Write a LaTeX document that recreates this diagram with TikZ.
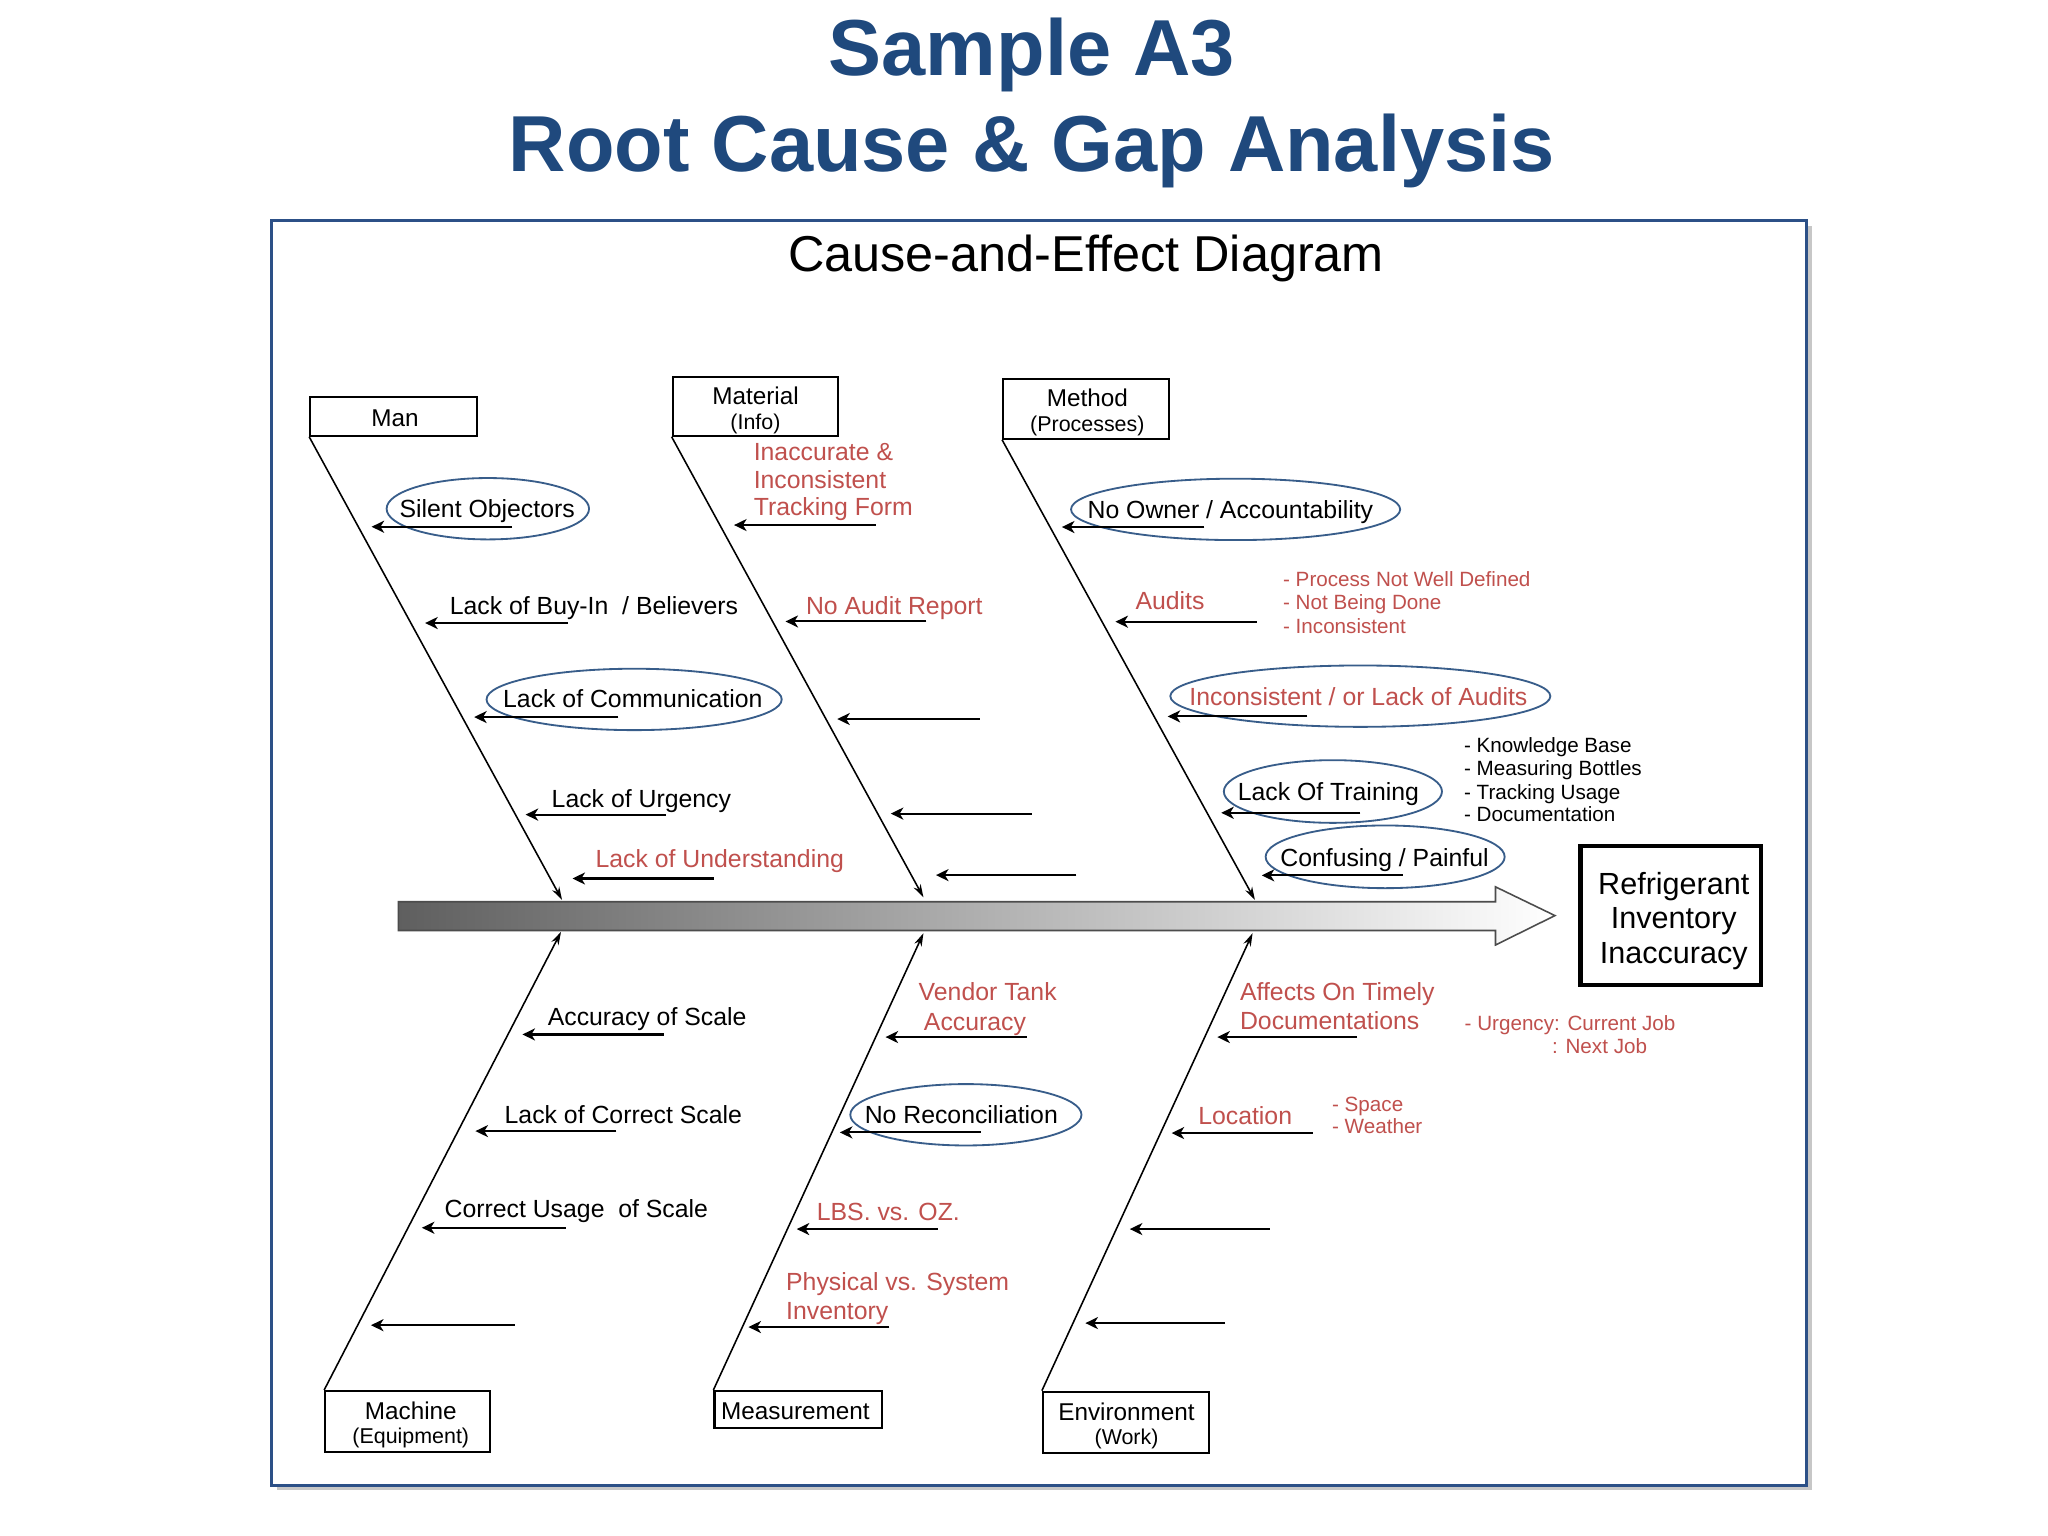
\documentclass[tikz,border=0pt]{standalone}
\usepackage{fontspec}
\setmainfont{Liberation Sans}
\usetikzlibrary{shapes.geometric,arrows.meta}
\definecolor{titleblue}{RGB}{31,73,125}
\definecolor{frameblue}{RGB}{44,80,135}
\definecolor{ellblue}{RGB}{56,93,138}
\definecolor{causered}{RGB}{192,80,77}
\definecolor{spinedark}{RGB}{95,95,95}
\newcommand\myfs[1]{\fontsize{#1}{#1}\selectfont}
\newcommand\subar[4]{\coordinate (#1s) at (#3,#4); \coordinate (#1t) at (#2,#4); \draw[subarr] (#1s) -- (#1t);}
\begin{document}
\begin{tikzpicture}[x=0.5pt,y=-0.5pt,
  lbl/.style={inner sep=0pt, anchor=west, text height=0.72em, text depth=0pt, font=\myfs{9.5}},
  ctxt/.style={inner sep=0pt, text height=0.72em, text depth=0pt, font=\myfs{9.5}},
  redtxt/.style={text=causered},
  smalltxt/.style={font=\myfs{7.9}},
  boxtop/.style={ctxt, font=\myfs{9.3}},
  boxsub/.style={ctxt, font=\myfs{8.2}},
  catbox/.style={draw, line width=0.8pt, inner sep=0pt},
  cause/.style={ellipse, draw=ellblue, line width=0.7pt, inner sep=0pt},
  bone/.style={line width=0.6pt, -{Stealth[length=5pt,width=3pt,open]}},
  subarr/.style={line width=0.8pt, -{Stealth[length=4.8pt,width=4.6pt,inset=1.4pt]}}
]
\useasboundingbox (0,0) rectangle (1568,1176);
% titles
\node[font=\bfseries\myfs{30.4}, text=titleblue, anchor=base, inner sep=0pt] (t1) at (790,58) {Sample A3};
\node[font=\bfseries\myfs{30.4}, text=titleblue, anchor=base, inner sep=0pt] (t2) at (790,131.4) {Root Cause \& Gap Analysis};
% frame
\fill[black!22] (212,173) rectangle (1387,1141);
\draw[frameblue, line width=1.2pt, fill=white] (208,169) rectangle (1383,1137);
\node[font=\myfs{19.3}, anchor=base, inner sep=0pt] (sub) at (831.5,208) {Cause-and-Effect Diagram};
% spine
\shadedraw[left color=spinedark, right color=white, draw=black!70, line width=0.6pt]
  (305,690.4) -- (1145,690.4) -- (1145,679) -- (1190.5,701) -- (1145,723.5) -- (1145,712.4) -- (305,712.4) -- cycle;
% category boxes
\node[catbox, minimum width=64pt, minimum height=14.9pt] (man) at (301.5,318.7) {};
\node[catbox, minimum width=63.3pt, minimum height=22.6pt] (material) at (578.3,311) {};
\node[catbox, minimum width=63.5pt, minimum height=22.9pt] (method) at (831.5,313) {};
\node[catbox, minimum width=63pt, minimum height=23.5pt] (machine) at (312,1088.5) {};
\node[catbox, minimum width=64pt, minimum height=14.2pt] (measurement) at (611,1079.2) {};
\node[catbox, minimum width=63.5pt, minimum height=23.5pt] (environment) at (862,1089) {};
\node[boxtop] (mant) at (302.5,319) {Man};
\node[boxtop] (materialt) at (578.4,302.4) {Material};
\node[boxsub] (materials) at (578.4,321.6) {(Info)};
\node[boxtop] (methodt) at (832.5,304.3) {Method};
\node[boxsub] (methods) at (832.5,323) {(Processes)};
\node[boxtop] (machinet) at (314.5,1079.5) {Machine};
\node[boxsub] (machines) at (314.5,1097.7) {(Equipment)};
\node[boxtop] (measurementt) at (609,1079.5) {Measurement};
\node[boxtop] (environmentt) at (862.5,1080.5) {Environment};
\node[boxsub] (environments) at (862.5,1098.6) {(Work)};
\node[draw, line width=1.6pt, minimum width=69pt, minimum height=53pt, inner sep=0pt] (effect) at (1279,701) {};
\node[align=center, inner sep=0pt, font=\fontsize{11.7}{13.25}\selectfont] (effectt) at (1281.5,705) {Refrigerant\\Inventory\\Inaccuracy};
% bones
\coordinate (manE) at (430.3,689);
\coordinate (materialE) at (707,687);
\coordinate (methodE) at (960.8,689);
\coordinate (machineE) at (429.5,713.5);
\coordinate (measurementE) at (707,714.5);
\coordinate (environmentE) at (959,714.5);
\draw[bone] (man.south west) -- (manE);
\draw[bone] (material.south west) -- (materialE);
\draw[bone] (method.south west) -- (methodE);
\draw[bone] (machine.north west) -- (machineE);
\draw[bone] (measurement.north west) -- (measurementE);
\draw[bone] (environment.north west) -- (environmentE);
% ellipses
\node[cause, minimum width=77.5pt, minimum height=23.5pt] (e1) at (373.5,389.5) {};
\node[cause, minimum width=113pt, minimum height=23.5pt] (e2) at (485.5,535.5) {};
\node[cause, minimum width=126pt, minimum height=23.5pt] (e3) at (946,390) {};
\node[cause, minimum width=145.5pt, minimum height=23.5pt] (e4) at (1041.5,533) {};
\node[cause, minimum width=83.5pt, minimum height=24pt] (e5) at (1020.5,606) {};
\node[cause, minimum width=91.5pt, minimum height=24pt] (e6) at (1060.5,656) {};
\node[cause, minimum width=88.5pt, minimum height=23.5pt] (e7) at (739.5,853.5) {};
\node[ctxt] (e1t) at (373,389) {Silent Objectors};
\node[ctxt] (e2t) at (484.5,534.5) {Lack of Communication};
\node[ctxt] (e3t) at (942,390) {No Owner / Accountability};
\node[ctxt, redtxt] (e4t) at (1040,533) {Inconsistent / or Lack of Audits};
\node[ctxt] (e5t) at (1017,606) {Lack Of Training};
\node[ctxt] (e6t) at (1060,656) {Confusing / Painful};
\node[ctxt] (e7t) at (736,853) {No Reconciliation};
% sub arrows: name, tip x, end x, y
\subar{a1}{284.5}{392}{403.3}
\subar{a2}{325.5}{435}{477}
\subar{a3}{363}{473.5}{549}
\subar{a4}{402.4}{510}{623.7}
\subar{a5}{438.3}{546.6}{672.6}
\subar{b1}{562}{670.6}{402}
\subar{b2}{601.4}{709.3}{475.8}
\subar{b3}{641}{750}{550.5}
\subar{b4}{682}{790}{622.9}
\subar{b5}{716.6}{824}{670}
\subar{c1}{813}{922}{403.5}
\subar{c2}{854}{962}{476}
\subar{c3}{894}{1001}{548.5}
\subar{c4}{935}{1041.6}{622.3}
\subar{c5}{966}{1074}{670.2}
\subar{d1}{400}{508}{792}
\subar{d2}{364}{472}{866}
\subar{d3}{323}{433}{940}
\subar{d4}{284}{394}{1014.6}
\subar{f1}{678}{786}{794}
\subar{f2}{643}{751}{867}
\subar{f3}{610}{718}{941}
\subar{f4}{573}{681}{1016}
\subar{g1}{932}{1039}{794}
\subar{g2}{897}{1005}{867.5}
\subar{g3}{865}{972}{941}
\subar{g4}{831}{938}{1013}
% labels: Man
\node[lbl] (l1) at (344,463) {Lack of Buy-In \ / Believers};
\node[lbl] (l2) at (422,611) {Lack of Urgency};
\node[lbl, redtxt] (l3) at (455.6,657) {Lack of Understanding};
% Material
\node[lbl, redtxt] (l4) at (576.7,345) {Inaccurate \&};
\node[lbl, redtxt] (l5) at (576.7,366.5) {Inconsistent};
\node[lbl, redtxt] (l6) at (576.7,387.6) {Tracking Form};
\node[lbl, redtxt] (l7) at (616.7,463) {No Audit Report};
% Method
\node[lbl, redtxt] (l8) at (869,459.5) {Audits};
\node[lbl, redtxt, smalltxt] (l9) at (982,442) {- Process Not Well Defined};
\node[lbl, redtxt, smalltxt] (l10) at (982,459.5) {- Not Being Done};
\node[lbl, redtxt, smalltxt] (l11) at (982,478) {- Inconsistent};
\node[lbl, smalltxt] (l12) at (1120.5,569) {- Knowledge Base};
\node[lbl, smalltxt] (l13) at (1120.5,586.5) {- Measuring Bottles};
\node[lbl, smalltxt] (l14) at (1120.5,605) {- Tracking Usage};
\node[lbl, smalltxt] (l15) at (1120.5,622) {- Documentation};
% Machine
\node[lbl] (l16) at (419,777.7) {Accuracy of Scale};
\node[lbl] (l17) at (386,853) {Lack of Correct Scale};
\node[lbl] (l18) at (340,925) {Correct Usage \ of Scale};
% Measurement
\node[lbl, redtxt] (l19) at (703,759) {Vendor Tank};
\node[lbl, redtxt] (l20) at (707,781.5) {Accuracy};
\node[lbl, redtxt] (l21) at (625,927.5) {LBS. vs. OZ.};
\node[lbl, redtxt] (l22) at (601.5,981) {Physical vs. System};
\node[lbl, redtxt] (l23) at (601.5,1003) {Inventory};
% Environment
\node[lbl, redtxt] (l24) at (949,759) {Affects On Timely};
\node[lbl, redtxt] (l25) at (949,780.7) {Documentations};
\node[lbl, redtxt, smalltxt] (l26) at (1121,782) {- Urgency: Current Job};
\node[lbl, redtxt, smalltxt] (l27) at (1188,799) {: Next Job};
\node[lbl, redtxt] (l28) at (917,853.7) {Location};
\node[lbl, redtxt, smalltxt] (l29) at (1019.5,844) {- Space};
\node[lbl, redtxt, smalltxt] (l30) at (1019.5,861) {- Weather};
\end{tikzpicture}
\end{document}
